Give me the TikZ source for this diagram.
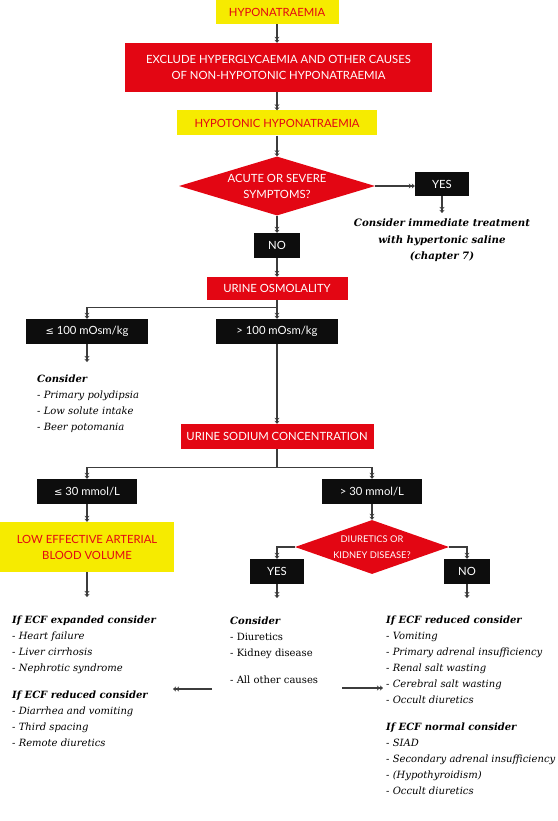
\documentclass[tikz,border=0pt]{standalone}
\usepackage{fontspec}
\setmainfont{DejaVu Serif}
\newfontfamily\boxfont{Lato}
\newfontfamily\symfont{DejaVu Sans}
\usetikzlibrary{arrows.meta,shapes.geometric}

\definecolor{hyred}{RGB}{227,6,19}
\definecolor{hyyellow}{RGB}{246,235,0}
\definecolor{hygrey}{RGB}{60,60,60}

\newcommand{\lesym}{{\symfont\fontsize{10}{12}\selectfont ≤}}

\tikzset{
  box/.style={rectangle, inner sep=0pt, align=center, font=\boxfont\fontsize{11.3}{16}\selectfont},
  ybox/.style={box, fill=hyyellow, text=hyred},
  rbox/.style={box, fill=hyred, text=white},
  kbox/.style={box, fill=black!95, text=white},
  rdiam/.style={diamond, inner sep=0pt, fill=hyred, text=white, align=center},
  arr/.style={draw=hygrey, line width=1.3pt, -{Stealth[length=3pt,width=5pt]Stealth[length=3pt,width=5pt]}},
  lst/.style={anchor=north west, inner sep=0pt, align=left, font=\fontsize{10}{16}\selectfont},
}

\begin{document}
\begin{tikzpicture}[x=1pt, y=-1pt]

\useasboundingbox (0,0) rectangle (557,821);

% top of the chart
\draw (277,12) node (hypo) [ybox, minimum width=123pt, minimum height=24pt] {HYPONATRAEMIA};
\draw (278.5,67.5) node (excl) [rbox, minimum width=307pt, minimum height=49pt] {EXCLUDE HYPERGLYCAEMIA AND OTHER CAUSES\\OF NON-HYPOTONIC HYPONATRAEMIA};
\draw (277,123) node (hypot) [ybox, minimum width=200pt, minimum height=25pt] {HYPOTONIC HYPONATRAEMIA};

\draw [arr] (hypo.south) -- (hypo.south |- excl.north);
\draw [arr] (hypo.south |- excl.south) -- (hypot.north);

\draw (277,186) node (acute) [rdiam, aspect=3.32, minimum width=196pt, minimum height=59pt, font=\boxfont\fontsize{11.3}{16}\selectfont] {ACUTE OR SEVERE\\SYMPTOMS?};
\draw [arr] (hypot.south) -- (acute.north);

\draw (442,184) node (yes1) [kbox, minimum width=54pt, minimum height=24pt] {YES};
\draw [arr] (acute.east) -- (acute.east -| yes1.west);

\coordinate (treat) at (442,213);
\draw [arr] (yes1.south) -- (treat);
\draw (442,219) node (treattxt) [anchor=north, inner sep=0pt, align=center, font=\fontsize{10.2}{16.5}\selectfont] {\textbf{\textit{Consider immediate treatment}}\\\textbf{\textit{with hypertonic saline}}\\\textbf{\textit{(chapter 7)}}};

\draw (277,245.5) node (no1) [kbox, minimum width=46pt, minimum height=25pt] {NO};
\draw [arr] (acute.south) -- (no1.north);

\draw (277,288.5) node (osmo) [rbox, minimum width=141pt, minimum height=23pt] {URINE OSMOLALITY};
\draw [arr] (no1.south) -- (osmo.north);

% osmolality branches
\draw (87,331.5) node (le100) [kbox, minimum width=122pt, minimum height=25pt] {\lesym{} 100 mOsm/kg};
\draw (277,331.5) node (gt100) [kbox, minimum width=122pt, minimum height=25pt] {> 100 mOsm/kg};

\draw [arr] (osmo.south) -- ++(0,7) -| (le100.north);
\draw [arr] (osmo.south) -- (gt100.north);

\coordinate (polyd) at (87,362);
\draw [arr] (le100.south) -- (polyd);
\draw (37,375) node (cons1) [lst] {\textbf{\textit{Consider}}\\\textit{- Primary polydipsia}\\\textit{- Low solute intake}\\\textit{- Beer potomania}};

\draw (277,436.5) node (sodium) [rbox, minimum width=193pt, minimum height=25pt] {URINE SODIUM CONCENTRATION};
\draw [arr] (gt100.south) -- (sodium.north);

% sodium branches
\draw (87,491.5) node (le30) [kbox, minimum width=100pt, minimum height=25pt] {\lesym{} 30 mmol/L};
\draw (372,491.5) node (gt30) [kbox, minimum width=100pt, minimum height=25pt] {> 30 mmol/L};

\draw [arr] (sodium.south) -- ++(0,18) -| (le30.north);
\draw [arr] (sodium.south) -- ++(0,18) -| (gt30.north);

\draw (87,547) node (low) [ybox, minimum width=174pt, minimum height=50pt] {LOW EFFECTIVE ARTERIAL\\BLOOD VOLUME};
\draw [arr] (le30.south) -- (low.north);

\draw (372,547) node (diur) [rdiam, aspect=2.85, minimum width=154pt, minimum height=54pt, font=\boxfont\fontsize{9.3}{16}\selectfont] {DIURETICS OR\\KIDNEY DISEASE?};
\draw [arr] (gt30.south) -- (diur.north);

\draw (277,571.5) node (yes2) [kbox, minimum width=54pt, minimum height=25pt] {YES};
\draw (467,571.5) node (no2) [kbox, minimum width=46pt, minimum height=25pt] {NO};

\draw [arr] (diur.west) -| (yes2.north);
\draw [arr] (diur.east) -| (no2.north);

\coordinate (lowend) at (87,597);
\coordinate (yesend) at (277,598);
\coordinate (noend) at (467,598);
\draw [arr] (low.south) -- (lowend);
\draw [arr] (yes2.south) -- (yesend);
\draw [arr] (no2.south) -- (noend);

% lists at the bottom
\draw (12,616) node (expand) [lst] {\textbf{\textit{If ECF expanded consider}}\\\textit{- Heart failure}\\\textit{- Liver cirrhosis}\\\textit{- Nephrotic syndrome}\\[11pt]\textbf{\textit{If ECF reduced consider}}\\\textit{- Diarrhea and vomiting}\\\textit{- Third spacing}\\\textit{- Remote diuretics}};

\draw (230,617) node (cons2) [lst] {\textbf{\textit{Consider}}\\- Diuretics\\- Kidney disease\\[11pt]- All other causes};

\draw (386,616) node (reduce) [lst] {\textbf{\textit{If ECF reduced consider}}\\\textit{- Vomiting}\\\textit{- Primary adrenal insufficiency}\\\textit{- Renal salt wasting}\\\textit{- Cerebral salt wasting}\\\textit{- Occult diuretics}\\[11pt]\textbf{\textit{If ECF normal consider}}\\\textit{- SIAD}\\\textit{- Secondary adrenal insufficiency}\\\textit{- (Hypothyroidism)}\\\textit{- Occult diuretics}};

\coordinate (lfrom) at (212,689);
\coordinate (lto) at (173,689);
\coordinate (rfrom) at (342,688);
\coordinate (rto) at (383,688);
\draw [arr] (lfrom) -- (lto);
\draw [arr] (rfrom) -- (rto);

\end{tikzpicture}
\end{document}
